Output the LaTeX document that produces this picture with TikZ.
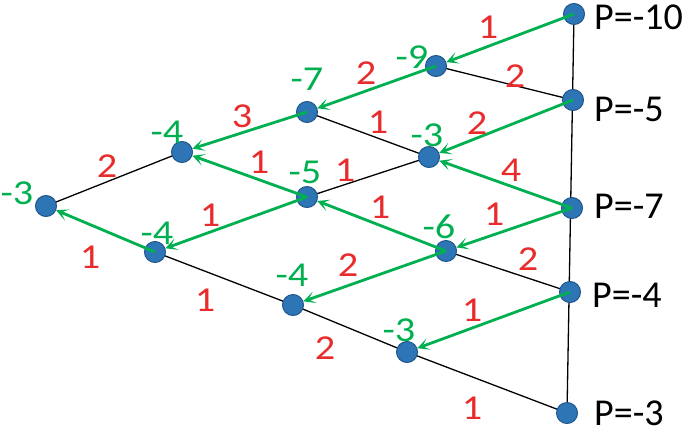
\documentclass[tikz,border=0pt]{standalone}
\usepackage{fontspec}
\setmainfont{Carlito}[FakeStretch=1.15]
\newfontfamily\pfont{Carlito}
\usetikzlibrary{arrows.meta}
\definecolor{gr}{RGB}{0,176,80}
\definecolor{rd}{RGB}{232,44,44}
\definecolor{bl}{RGB}{46,117,182}
\definecolor{bd}{RGB}{31,86,140}
\pgfdeclarelayer{bg}
\pgfsetlayers{bg,main}
\begin{document}
\begin{tikzpicture}[x=1pt,y=-1pt,
 pt/.style={circle,fill=bl,draw=bd,line width=1pt,minimum size=21pt,inner sep=0pt},
 blk/.style={line width=1.3pt,black},
 grn/.style={line width=2.8pt,gr,-{Stealth[length=12pt,width=12pt,inset=6.5pt]}},
 w/.style={rd,font=\fontsize{35}{35}\selectfont,inner sep=0pt},
 v/.style={gr,font=\fontsize{35}{35}\selectfont,inner sep=0pt},
 plab/.style={anchor=west,font=\pfont\fontsize{38}{38}\selectfont,inner sep=0pt}]
\useasboundingbox (0,0) rectangle (685,434);
% nodes
\node[pt] (A10) at (574,14) {};
\node[pt] (A5) at (573,100) {};
\node[pt] (A7) at (572,208) {};
\node[pt] (A4) at (570,292) {};
\node[pt] (A3) at (567,413) {};
\node[pt] (n9) at (436,66) {};
\node[pt] (n7) at (307,112) {};
\node[pt] (n3a) at (429,157) {};
\node[pt] (n4a) at (182,152) {};
\node[pt] (n5) at (307,197) {};
\node[pt] (n6) at (446,251) {};
\node[pt] (L) at (46,206) {};
\node[pt] (n4b) at (155,252) {};
\node[pt] (n4c) at (293,305) {};
\node[pt] (n3b) at (407,352) {};
% black lines
\begin{pgfonlayer}{bg}
\draw[blk] (A10.center) -- (A3.center);
\draw[blk] (L.center) -- (n4a.center);
\draw[blk] (n5.center) -- (n3a.center);
\draw[blk] (n7.center) -- (n3a.center);
\draw[blk] (n9.center) -- (A5.center);
\draw[blk] (n6.center) -- (A4.center);
\draw[blk] (n4b.center) -- (n4c.center);
\draw[blk] (n4c.center) -- (n3b.center);
\draw[blk] (n3b.center) -- (A3.center);
\end{pgfonlayer}
% green arrows
\draw[grn] (A10.center) -- (n9);
\draw[grn] (n9.center) -- (n7);
\draw[grn] (n7.center) -- (n4a);
\draw[grn] (n5.center) -- (n4a);
\draw[grn] (n4b.center) -- (L);
\draw[grn] (n5.center) -- (n4b);
\draw[grn] (A5.center) -- (n3a);
\draw[grn] (A7.center) -- (n3a);
\draw[grn] (n6.center) -- (n5);
\draw[grn] (A7.center) -- (n6);
\draw[grn] (n6.center) -- (n4c);
\draw[grn] (A4.center) -- (n3b);
% weights
\node[w] (w1) at (107,166) {2};
\node[w] (w2) at (90,257) {1};
\node[w] (w3) at (242,116) {3};
\node[w] (w4) at (259,162) {1};
\node[w] (w5) at (210,215) {1};
\node[w] (w6) at (366,73) {2};
\node[w] (w7) at (378,122) {1};
\node[w] (w8) at (345,170) {1};
\node[w] (w9) at (488,27) {1};
\node[w] (w10) at (515,76) {2};
\node[w] (w11) at (477,123) {2};
\node[w] (w12) at (511,170) {4};
\node[w] (w13) at (380,207) {1};
\node[w] (w14) at (494,214) {1};
\node[w] (w15) at (528,259) {2};
\node[w] (w16) at (348,265) {2};
\node[w] (w17) at (472,310) {1};
\node[w] (w18) at (205,300) {1};
\node[w] (w19) at (325,348) {2};
\node[w] (w20) at (472,408) {1};
% values
\node[v] (vL) at (17,193) {-3};
\node[v] (v4a) at (167,132) {-4};
\node[v] (v4b) at (157,233) {-4};
\node[v] (v7) at (307,79) {-7};
\node[v] (v9) at (412,57) {-9};
\node[v] (v3a) at (427,135) {-3};
\node[v] (v5) at (305,172) {-5};
\node[v] (v6) at (439,227) {-6};
\node[v] (v4c) at (292,275) {-4};
\node[v] (v3b) at (399,330) {-3};
% P labels
\node[plab] (p10) at (594,17) {P=-10};
\node[plab] (p5) at (594,109) {P=-5};
\node[plab] (p7) at (594,206) {P=-7};
\node[plab] (p4) at (592,295) {P=-4};
\node[plab] (p3) at (594,413) {P=-3};
\end{tikzpicture}
\end{document}
